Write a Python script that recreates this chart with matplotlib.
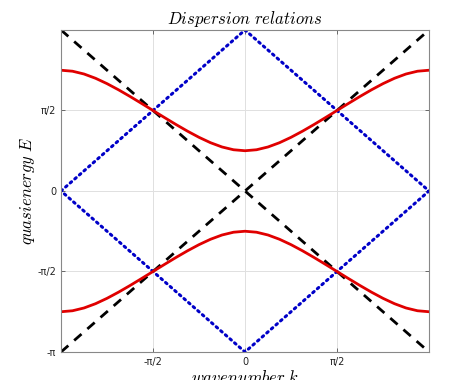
import numpy as np
from matplotlib import pyplot as plt

plt.rcParams['mathtext.fontset'] = 'cm'

# wavenumber samples, in units of pi (k = j*pi/16)
kGrid = [-1.0, -0.9375, -0.875, -0.8125, -0.75, -0.6875, -0.625, -0.5625, -0.5,
         -0.4375, -0.375, -0.3125, -0.25, -0.1875, -0.125, -0.0625, 0.0,
         0.0625, 0.125, 0.1875, 0.25, 0.3125, 0.375, 0.4375, 0.5,
         0.5625, 0.625, 0.6875, 0.75, 0.8125, 0.875, 0.9375, 1.0]

# red bands (quasienergy / pi)
upperBand = [0.75, 0.7439, 0.7266, 0.7001, 0.6667, 0.6285, 0.5872, 0.5440, 0.5,
             0.4560, 0.4128, 0.3715, 0.3333, 0.2999, 0.2734, 0.2561, 0.25,
             0.2561, 0.2734, 0.2999, 0.3333, 0.3715, 0.4128, 0.4560, 0.5,
             0.5440, 0.5872, 0.6285, 0.6667, 0.7001, 0.7266, 0.7439, 0.75]
lowerBand = [-0.75, -0.7439, -0.7266, -0.7001, -0.6667, -0.6285, -0.5872, -0.5440, -0.5,
             -0.4560, -0.4128, -0.3715, -0.3333, -0.2999, -0.2734, -0.2561, -0.25,
             -0.2561, -0.2734, -0.2999, -0.3333, -0.3715, -0.4128, -0.4560, -0.5,
             -0.5440, -0.5872, -0.6285, -0.6667, -0.7001, -0.7266, -0.7439, -0.75]

# black dashed lines (units of pi)
dashK = [-1.0, 1.0]
dashRising = [-1.0, 1.0]
dashFalling = [1.0, -1.0]

# blue dotted diamond (units of pi)
diamondK = [-1.0, 0.0, 1.0, 0.0, -1.0]
diamondE = [0.0, 1.0, 0.0, -1.0, 0.0]

xTicks = [-0.5, 0.0, 0.5]
xTickLabels = ['-π/2', '0', 'π/2']
yTicks = [-1.0, -0.5, 0.0, 0.5]
yTickLabels = ['-π', '-π/2', '0', 'π/2']

fig = plt.figure(figsize=(4.74, 3.8), dpi=100)
ax = fig.add_axes([0.1287, 0.0737, 0.7764, 0.8474])

pi = np.pi
ax.plot(np.array(diamondK) * pi, np.array(diamondE) * pi, color='#0000c8',
        linestyle=(0, (0.6, 1.4)), linewidth=2.2, dash_capstyle='round')
ax.plot(np.array(dashK) * pi, np.array(dashRising) * pi, color='black',
        linestyle=(0, (3.5, 2.8)), linewidth=2.0)
ax.plot(np.array(dashK) * pi, np.array(dashFalling) * pi, color='black',
        linestyle=(0, (3.5, 2.8)), linewidth=2.0)
ax.plot(np.array(kGrid) * pi, np.array(upperBand) * pi, color='#e00000', linewidth=2.0)
ax.plot(np.array(kGrid) * pi, np.array(lowerBand) * pi, color='#e00000', linewidth=2.0)

ax.set_xlim(-pi, pi)
ax.set_ylim(-pi, pi)
ax.set_xticks(np.array(xTicks) * pi)
ax.set_xticklabels(xTickLabels)
ax.set_yticks(np.array(yTicks) * pi)
ax.set_yticklabels(yTickLabels)
ax.tick_params(direction='in', top=True, right=True, length=3, width=0.6,
               colors='#555555', labelcolor='#222222', labelsize=7)
for spine in ax.spines.values():
    spine.set_color('#888888')
    spine.set_linewidth(0.8)
ax.grid(True, color='#e0e0e0', linewidth=0.7)
ax.set_axisbelow(True)

ax.set_title('$Dispersion\\ relations$', fontsize=12, pad=4)
ax.set_ylabel('$quasienergy\\ E$', fontsize=12, labelpad=0)
ax.set_xlabel('$wavenumber\\ k$', fontsize=12, labelpad=1.5)

fig.savefig('out.png', dpi=100)
